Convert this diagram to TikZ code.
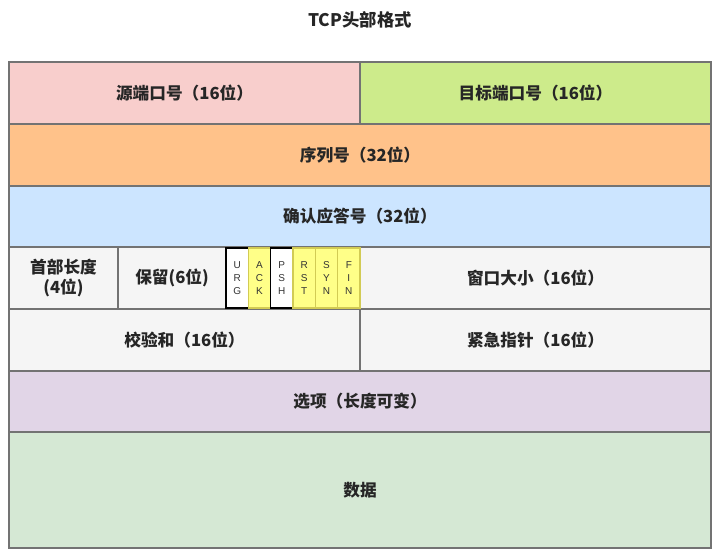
\documentclass[tikz,border=0pt]{standalone}
\usepackage{fontspec}
\setmainfont{Noto Sans CJK SC}
\setsansfont{Liberation Sans}
\begin{document}
\begin{tikzpicture}[x=0.75pt,y=-0.75pt,
 cell/.style={draw=#1,line width=0.8pt},
 lab/.style={font=\bfseries\fontsize{12.5}{14.5}\selectfont,align=center,text=black!85},
 flg/.style={font=\sffamily\fontsize{7.5}{10}\selectfont,align=center,text=black!80,inner sep=0}]
\useasboundingbox (0,0) rectangle (720,558);
\node[lab,font=\bfseries\fontsize{13}{15}\selectfont] (t) at (360,20) {TCP头部格式};
\definecolor{c1}{HTML}{F8CECC}\definecolor{c2}{HTML}{CDEB8B}\definecolor{c3}{HTML}{FFC28A}
\definecolor{c4}{HTML}{CCE5FF}\definecolor{c5}{HTML}{F5F5F5}\definecolor{c6}{HTML}{E1D5E7}
\definecolor{c7}{HTML}{D5E8D4}\definecolor{fy}{HTML}{FFFF88}
\filldraw[fill=c1,cell=black!55] (9,62) rectangle (360,124);
\filldraw[fill=c2,cell=black!55] (360,62) rectangle (711,124);
\filldraw[fill=c3,cell=black!55] (9,124) rectangle (711,186);
\filldraw[fill=c4,cell=black!55] (9,186) rectangle (711,247);
\filldraw[fill=c5,cell=black!55] (9,247) rectangle (118,309);
\filldraw[fill=c5,cell=black!55] (118,247) rectangle (226,309);
\filldraw[fill=c5,cell=black!55] (360,247) rectangle (711,309);
\filldraw[fill=c5,cell=black!55] (9,309) rectangle (360,371);
\filldraw[fill=c5,cell=black!55] (360,309) rectangle (711,371);
\filldraw[fill=c6,cell=black!55] (9,371) rectangle (711,432);
\filldraw[fill=c7,cell=black!55] (9,432) rectangle (711,548);
\foreach \i/\c/\b/\t in {0/white/black/U\\R\\G,1/fy/yellow!60!gray/A\\C\\K,2/white/black/P\\S\\H,3/fy/yellow!60!gray/R\\S\\T,4/fy/yellow!60!gray/S\\Y\\N,5/fy/yellow!60!gray/F\\I\\N}{
 \filldraw[fill=\c,draw=\b,line width=0.8pt] ({226+\i*22.33},248) rectangle ({226+(\i+1)*22.33},308);
 \node[flg] (f\i) at ({226+(\i+0.5)*22.33},278) {\t};}
\node[lab] (a) at (184.5,93) {源端口号（16位）};
\node[lab] (b) at (535.5,93) {目标端口号（16位）};
\node[lab] (c) at (360,155) {序列号（32位）};
\node[lab] (d) at (360,216.5) {确认应答号（32位）};
\node[lab] (e) at (63.5,278) {首部长度\\(4位)};
\node[lab] (g) at (172,278) {保留(6位)};
\node[lab] (h) at (535.5,278) {窗口大小（16位）};
\node[lab] (i) at (184.5,340) {校验和（16位）};
\node[lab] (j) at (535.5,340) {紧急指针（16位）};
\node[lab] (k) at (360,401.5) {选项（长度可变）};
\node[lab] (l) at (360,490) {数据};
\end{tikzpicture}
\end{document}
